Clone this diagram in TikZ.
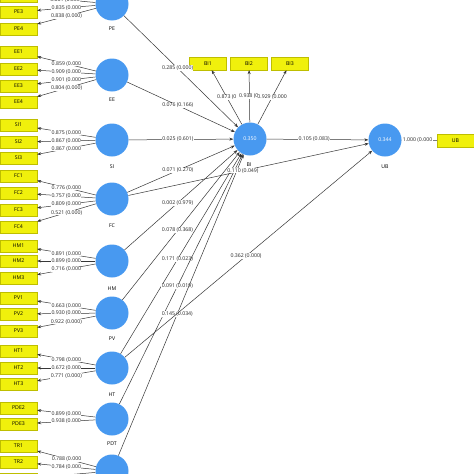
\documentclass[tikz,border=0pt]{standalone}
\usepackage{fontspec}
\setmainfont{Open Sans}
\usetikzlibrary{arrows.meta}
\definecolor{lvblue}{RGB}{72,153,240}
\definecolor{indyellow}{RGB}{240,240,12}
\definecolor{indedge}{RGB}{190,190,0}
\definecolor{linegray}{RGB}{55,55,55}
\newcommand\lblfont{\fontsize{5.2}{6}\selectfont}
\begin{document}
\begin{tikzpicture}[x=1pt,y=-1pt,
 lv/.style={circle,fill=lvblue,minimum size=33pt,inner sep=0pt,text=white,font=\lblfont},
 ind/.style={rectangle,fill=indyellow,draw=indedge,line width=0.3pt,minimum width=37pt,minimum height=12.5pt,inner sep=0pt,font=\lblfont},
 lvname/.style={font=\lblfont,inner sep=0.5pt},
 conn/.style={draw=linegray,line width=0.5pt,-{Stealth[length=4pt,width=3pt]}},
 plain/.style={draw=linegray,line width=0.5pt},
 lbl/.style={fill=white,inner sep=0.4pt,font=\lblfont,text=black!85,pos=0.5},
 slbl/.style={lbl,pos=0.47}]
\useasboundingbox (0,0) rectangle (474,474);
\fill[white] (0,0) rectangle (474,474);
\clip (0,0) rectangle (474,474);

% latent variables
\node[lv] (PE) at (112,4) {};
\node[lv] (EE) at (112,75) {};
\node[lv] (SI) at (112,140) {};
\node[lv] (FC) at (112,199) {};
\node[lv] (HM) at (112,261) {};
\node[lv] (PV) at (112,313) {};
\node[lv] (HT) at (112,368) {};
\node[lv] (PDT) at (112,419) {};
\node[lv] (TR) at (112,471) {};
\node[lv] (BI) at (250,139) {0.350};
\node[lv] (UB) at (385,140) {0.344};

% names
\node[lvname] (PEn) at (112,29) {PE};
\node[lvname] (EEn) at (112,100) {EE};
\node[lvname] (SIn) at (112,167) {SI};
\node[lvname] (FCn) at (112,226) {FC};
\node[lvname] (HMn) at (112,289) {HM};
\node[lvname] (PVn) at (112,339) {PV};
\node[lvname] (HTn) at (112,395) {HT};
\node[lvname] (PDTn) at (112,444) {PDT};
\node[lvname] (UBn) at (385,167) {UB};

% indicators (the two cut by the edges show no text)
\node[ind] (PE2) at (18.5,-4.5) {};
\node[ind] (PE3) at (18.5,12) {PE3};
\node[ind] (PE4) at (18.5,29) {PE4};
\node[ind] (EE1) at (18.5,52) {EE1};
\node[ind] (EE2) at (18.5,69) {EE2};
\node[ind] (EE3) at (18.5,86) {EE3};
\node[ind] (EE4) at (18.5,102) {EE4};
\node[ind] (SI1) at (18.5,125) {SI1};
\node[ind] (SI2) at (18.5,142) {SI2};
\node[ind] (SI3) at (18.5,158) {SI3};
\node[ind] (FC1) at (18.5,176) {FC1};
\node[ind] (FC2) at (18.5,193) {FC2};
\node[ind] (FC3) at (18.5,210) {FC3};
\node[ind] (FC4) at (18.5,227) {FC4};
\node[ind] (HM1) at (18.5,246) {HM1};
\node[ind] (HM2) at (18.5,261) {HM2};
\node[ind] (HM3) at (18.5,278) {HM3};
\node[ind] (PV1) at (18.5,298) {PV1};
\node[ind] (PV2) at (18.5,314) {PV2};
\node[ind] (PV3) at (18.5,331) {PV3};
\node[ind] (HT1) at (18.5,351) {HT1};
\node[ind] (HT2) at (18.5,368) {HT2};
\node[ind] (HT3) at (18.5,384) {HT3};
\node[ind] (PDE2) at (18.5,408) {PDE2};
\node[ind] (PDE3) at (18.5,424) {PDE3};
\node[ind] (TR1) at (18.5,446) {TR1};
\node[ind] (TR2) at (18.5,462) {TR2};
\node[ind] (TR3) at (18.5,479) {};
\node[ind,minimum height=13pt] (BI1) at (208,63.5) {BI1};
\node[ind,minimum height=13pt] (BI2) at (249,63.5) {BI2};
\node[ind,minimum height=13pt] (BI3) at (290,63.5) {BI3};
\node[ind,minimum height=13pt] (UBi) at (455.5,141) {UB};

% outer loadings
\draw[conn] (PE) -- node[lbl,pos=0.52]{0.861 (0.000} (PE2);
\draw[conn] (PE) -- node[lbl]{0.835 (0.000} (PE3);
\draw[conn] (PE) -- node[lbl]{0.838 (0.000)} (PE4);
\draw[conn] (EE) -- node[lbl]{0.859 (0.000} (EE1);
\draw[conn] (EE) -- node[lbl]{0.909 (0.000} (EE2);
\draw[conn] (EE) -- node[lbl]{0.901 (0.000} (EE3);
\draw[conn] (EE) -- node[lbl]{0.804 (0.000)} (EE4);
\draw[conn] (SI) -- node[lbl]{0.875 (0.000} (SI1);
\draw[conn] (SI) -- node[lbl]{0.867 (0.000} (SI2);
\draw[conn] (SI) -- node[lbl]{0.867 (0.000} (SI3);
\draw[conn] (FC) -- node[lbl]{0.776 (0.000} (FC1);
\draw[conn] (FC) -- node[lbl]{0.757 (0.000} (FC2);
\draw[conn] (FC) -- node[lbl]{0.809 (0.000} (FC3);
\draw[conn] (FC) -- node[lbl]{0.521 (0.000)} (FC4);
\draw[conn] (HM) -- node[lbl]{0.891 (0.000} (HM1);
\draw[conn] (HM) -- node[lbl]{0.899 (0.000} (HM2);
\draw[conn] (HM) -- node[lbl]{0.716 (0.000} (HM3);
\draw[conn] (PV) -- node[lbl]{0.663 (0.000} (PV1);
\draw[conn] (PV) -- node[lbl]{0.930 (0.000} (PV2);
\draw[conn] (PV) -- node[lbl]{0.922 (0.000)} (PV3);
\draw[conn] (HT) -- node[lbl]{0.798 (0.000} (HT1);
\draw[conn] (HT) -- node[lbl]{0.672 (0.000} (HT2);
\draw[conn] (HT) -- node[lbl]{0.771 (0.000)} (HT3);
\draw[conn] (PDT) -- node[lbl]{0.899 (0.000} (PDE2);
\draw[conn] (PDT) -- node[lbl]{0.938 (0.000} (PDE3);
\draw[conn] (TR) -- node[lbl]{0.788 (0.000} (TR1);
\draw[conn] (TR) -- node[lbl]{0.784 (0.000} (TR2);
\draw[conn] (TR) -- (TR3);
\draw[conn] (BI) -- node[lbl]{0.873 (0} (BI1);
\draw[conn] (BI) -- node[lbl]{0.938 (0.} (BI2);
\draw[conn] (BI) -- node[lbl]{0.929 (0.000} (BI3);
\draw[plain] (UB) -- node[lbl,pos=0.45]{1.000 (0.000} (UBi);

% structural paths
\draw[conn] (PE) -- node[slbl]{0.285 (0.000)} (BI);
\draw[conn] (EE) -- node[slbl]{0.076 (0.166)} (BI);
\draw[conn] (SI) -- node[slbl]{0.025 (0.601)} (BI);
\draw[conn] (FC) -- node[slbl]{0.071 (0.270)} (BI);
\draw[conn] (HM) -- node[slbl]{0.002 (0.979)} (BI);
\draw[conn] (PV) -- node[slbl]{0.078 (0.368)} (BI);
\draw[conn] (HT) -- node[slbl]{0.171 (0.023)} (BI);
\draw[conn] (PDT) -- node[slbl]{0.091 (0.019)} (BI);
\draw[conn] (TR) -- node[slbl]{0.145 (0.034)} (BI);
\draw[conn] (BI) -- node[lbl,pos=0.466]{0.105 (0.083)} (UB);
\draw[conn] (FC) -- node[lbl,pos=0.477]{0.110 (0.049)} (UB);
\draw[conn] (HT) -- node[lbl,pos=0.49]{0.362 (0.000)} (UB);
\node[lvname] (BIn) at (249,165) {BI};
\end{tikzpicture}
\end{document}
